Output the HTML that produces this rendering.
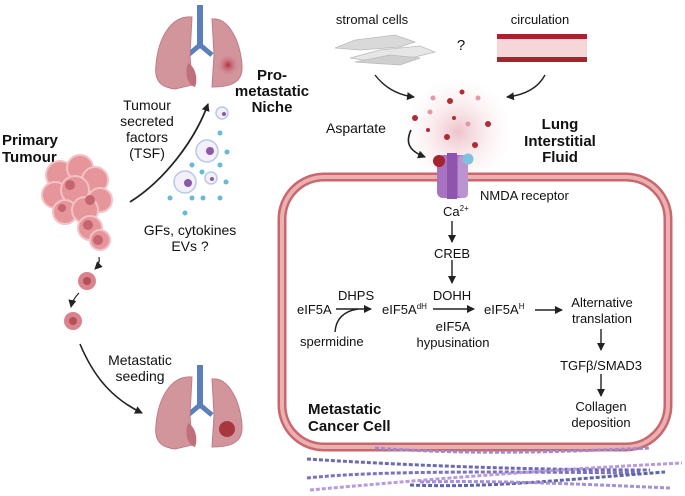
<!DOCTYPE html>
<html><head><meta charset="utf-8"><style>
html,body{margin:0;padding:0;background:#fff;}
svg{display:block;font-family:"Liberation Sans",sans-serif;}
</style></head><body>
<svg width="685" height="496" viewBox="0 0 685 496" xmlns="http://www.w3.org/2000/svg">
<defs>
<marker id="ah" markerWidth="10" markerHeight="10" refX="7" refY="5" orient="auto" markerUnits="userSpaceOnUse"><path d="M0,1 L8,5 L0,9 Z" fill="#222"/></marker>
<radialGradient id="glow" cx="50%" cy="50%" r="50%"><stop offset="0" stop-color="#e8a9b3" stop-opacity="0.7"/><stop offset="1" stop-color="#fbe8ec" stop-opacity="0"/></radialGradient>
<radialGradient id="spot" cx="50%" cy="50%" r="50%"><stop offset="0" stop-color="#b3303c"/><stop offset="1" stop-color="#d48a96" stop-opacity="0"/></radialGradient>
<g id="lung">
<rect x="-3" y="-40" width="6" height="42" fill="#5b7fb8"/>
<path d="M0,0 L-12,10 M0,0 L12,10" stroke="#5b7fb8" stroke-width="5"/>
<path d="M-8,-28 C-30,-30 -42,-5 -44,20 C-46,35 -40,42 -25,44 L-8,40 L-10,10 Z" fill="#d3959c" stroke="#c07d86" stroke-width="1"/>
<path d="M-12,18 C-4,22 -2,35 -5,42 C-12,40 -16,30 -12,18Z" fill="#c06f7d"/>
<path d="M12,-26 C28,-28 40,-5 42,20 C43,35 35,42 12,42 L14,10 Z" fill="#d3959c" stroke="#c07d86" stroke-width="1"/>
</g>
</defs>

<!-- top lung -->
<g transform="translate(200,45)">
<use href="#lung"/>
<circle cx="28" cy="20" r="11" fill="url(#spot)"/>
</g>
<!-- bottom lung -->
<g transform="translate(200,405)">
<use href="#lung"/>
<circle cx="27" cy="24" r="8" fill="#a8363f"/>
</g>

<!-- primary tumour -->
<text x="2" y="145" font-size="15" font-weight="bold" fill="#111">Primary</text>
<text x="2" y="162" font-size="15" font-weight="bold" fill="#111">Tumour</text>
<g fill="#e6959a" stroke="#f2c2c5" stroke-width="2">
<circle cx="60" cy="175" r="14"/><circle cx="80" cy="168" r="13"/><circle cx="95" cy="180" r="13"/>
<circle cx="55" cy="195" r="13"/><circle cx="75" cy="190" r="14"/><circle cx="100" cy="200" r="12"/>
<circle cx="65" cy="212" r="12"/><circle cx="85" cy="210" r="13"/><circle cx="90" cy="228" r="12"/>
<circle cx="100" cy="240" r="10"/>
</g>
<g fill="#c56570"><circle cx="70" cy="185" r="5"/><circle cx="90" cy="200" r="5"/><circle cx="88" cy="225" r="5"/><circle cx="98" cy="240" r="5"/><circle cx="62" cy="208" r="4"/></g>
<circle cx="87" cy="281" r="9" fill="#d9848c"/><circle cx="87" cy="281" r="4" fill="#b3505b"/>
<circle cx="73" cy="321" r="9" fill="#d9848c"/><circle cx="73" cy="321" r="4" fill="#b3505b"/>
<path d="M99,257 C100,262 98,266 95,269" fill="none" stroke="#222" stroke-width="1.2" marker-end="url(#ah)"/>
<path d="M79,293 C75,297 72,302 71,307" fill="none" stroke="#222" stroke-width="1.2" marker-end="url(#ah)"/>

<!-- TSF arrow -->
<path d="M130,202 C165,180 195,140 208,104" fill="none" stroke="#222" stroke-width="1.8" marker-end="url(#ah)"/>
<g font-size="14" fill="#111" text-anchor="middle">
<text x="147" y="110">Tumour</text><text x="147" y="126">secreted</text><text x="147" y="142">factors</text><text x="147" y="158">(TSF)</text>
<text x="190" y="235">GFs, cytokines</text><text x="190" y="251">EVs ?</text>
<text x="140" y="365">Metastatic</text><text x="140" y="381">seeding</text>
</g>
<text x="272" y="80" font-size="15" font-weight="bold" text-anchor="middle" fill="#111">Pro-</text>
<text x="272" y="96" font-size="15" font-weight="bold" text-anchor="middle" fill="#111">metastatic</text>
<text x="272" y="112" font-size="15" font-weight="bold" text-anchor="middle" fill="#111">Niche</text>
<!-- EVs -->
<g fill="#f4effa" stroke="#b8c9e6" stroke-width="1.5">
<circle cx="222" cy="113" r="6"/><circle cx="207" cy="151" r="11"/><circle cx="211" cy="178" r="6"/><circle cx="185" cy="182" r="11"/>
</g>
<g fill="#8a5aa8"><circle cx="224" cy="114" r="2"/><circle cx="210" cy="151" r="4"/><circle cx="212" cy="179" r="2"/><circle cx="188" cy="183" r="4"/></g>
<g fill="#62bcd8">
<circle cx="220" cy="133" r="2.5"/><circle cx="227" cy="152" r="2.5"/><circle cx="192" cy="165" r="2.5"/><circle cx="220" cy="165" r="2.5"/>
<circle cx="202" cy="172" r="2.5"/><circle cx="226" cy="182" r="2.5"/><circle cx="170" cy="198" r="2.5"/><circle cx="192" cy="198" r="2.5"/>
<circle cx="203" cy="198" r="2.5"/><circle cx="220" cy="198" r="2.5"/><circle cx="185" cy="213" r="2.5"/>
</g>
<path d="M80,344 C95,380 115,400 142,413" fill="none" stroke="#222" stroke-width="1.6" marker-end="url(#ah)"/>

<!-- top right -->
<text x="372" y="24" font-size="13" text-anchor="middle" fill="#111">stromal cells</text>
<text x="540" y="24" font-size="13" text-anchor="middle" fill="#111">circulation</text>
<text x="461" y="50" font-size="15" text-anchor="middle" fill="#111">?</text>
<g fill="#d9d9d9" stroke="#bbb" stroke-width="0.8">
<path d="M335,48 L355,40 L395,35 L415,42 L400,47 L360,50 Z"/>
<path d="M350,58 L380,50 L420,46 L435,52 L415,57 L375,62 Z" fill="#e6e6e6"/>
<path d="M355,62 L390,55 L420,58 L400,65 Z" fill="#cfcfcf"/>
</g>
<rect x="497" y="37" width="90" height="22" fill="#f6d6d6"/>
<rect x="497" y="34" width="90" height="5" fill="#a8232e"/>
<rect x="497" y="57" width="90" height="5" fill="#a8232e"/>
<path d="M375,75 C385,88 398,95 414,97" fill="none" stroke="#222" stroke-width="1.4" marker-end="url(#ah)"/>
<path d="M545,75 C538,88 525,95 507,97" fill="none" stroke="#222" stroke-width="1.4" marker-end="url(#ah)"/>
<circle cx="458" cy="132" r="55" fill="url(#glow)"/>
<g fill="#b12a36">
<circle cx="450" cy="101" r="3"/><circle cx="462" cy="92" r="2.5"/><circle cx="415" cy="118" r="3"/><circle cx="488" cy="124" r="3"/><circle cx="447" cy="137" r="3"/><circle cx="475" cy="145" r="3"/><circle cx="454" cy="118" r="2"/><circle cx="428" cy="130" r="2"/>
</g>
<g fill="#e19aa3"><circle cx="433" cy="98" r="2.5"/><circle cx="478" cy="98" r="2.5"/><circle cx="430" cy="112" r="2.5"/><circle cx="468" cy="124" r="2.5"/></g>
<text x="326" y="133" font-size="14" fill="#111">Aspartate</text>
<path d="M411,130 C404,145 412,152 425,157" fill="none" stroke="#222" stroke-width="1.6" marker-end="url(#ah)"/>
<g font-size="15" font-weight="bold" text-anchor="middle" fill="#111">
<text x="560" y="129">Lung</text><text x="560" y="146">Interstitial</text><text x="560" y="162">Fluid</text>
</g>

<!-- cell -->
<rect x="282" y="177" width="386" height="270" rx="42" fill="none" stroke="#c9676c" stroke-width="9"/>
<rect x="282" y="177" width="386" height="270" rx="42" fill="none" stroke="#eab0b2" stroke-width="4"/>
<!-- receptor -->
<rect x="437" y="155" width="31" height="43" rx="6" fill="#a773c0"/>
<rect x="447" y="153" width="10" height="46" fill="#8f55ae"/>
<rect x="458" y="155" width="10" height="43" rx="4" fill="#bb93d0"/>
<circle cx="439" cy="161" r="6" fill="#a5232d"/>
<circle cx="468" cy="159" r="5.5" fill="#7cc4de"/>
<g font-size="13" fill="#111">
<text x="480" y="200">NMDA receptor</text>
<text x="443" y="216">Ca<tspan font-size="8" dy="-5">2+</tspan></text>
<text x="452" y="258" text-anchor="middle">CREB</text>
<text x="297" y="314">eIF5A</text>
<text x="338" y="300">DHPS</text>
<text x="300" y="346">spermidine</text>
<text x="382" y="314">eIF5A<tspan font-size="8" dy="-5">dH</tspan></text>
<text x="452" y="300" text-anchor="middle">DOHH</text>
<text x="453" y="331" text-anchor="middle">eIF5A</text>
<text x="453" y="347" text-anchor="middle">hypusination</text>
<text x="484" y="314">eIF5A<tspan font-size="8" dy="-5">H</tspan></text>
<text x="602" y="307" text-anchor="middle">Alternative</text>
<text x="602" y="323" text-anchor="middle">translation</text>
<text x="601" y="370" text-anchor="middle">TGFβ/SMAD3</text>
<text x="601" y="411" text-anchor="middle">Collagen</text>
<text x="601" y="427" text-anchor="middle">deposition</text>
</g>
<g font-size="15" font-weight="bold" fill="#111"><text x="308" y="414">Metastatic</text><text x="308" y="431">Cancer Cell</text></g>
<g stroke="#222" stroke-width="1.4" fill="none" marker-end="url(#ah)">
<line x1="452" y1="221" x2="452" y2="242"/>
<line x1="452" y1="260" x2="452" y2="283"/>
<line x1="336" y1="309" x2="371" y2="309"/>
<line x1="433" y1="309" x2="474" y2="309"/>
<line x1="535" y1="310" x2="562" y2="310"/>
<line x1="601" y1="329" x2="601" y2="350"/>
<line x1="601" y1="374" x2="601" y2="396"/>
</g>
<path d="M335,332 C336,318 345,311 358,309" fill="none" stroke="#222" stroke-width="1.4"/>
<!-- collagen -->
<g fill="none" stroke-width="3" stroke-dasharray="4 2">
<path d="M307,459 C400,465 520,470 650,470" stroke="#6d6ab0"/>
<path d="M375,448 C470,455 560,452 650,448" stroke="#9d8ad0"/>
<path d="M307,478 C380,470 520,472 640,473" stroke="#7a73bb"/>
<path d="M310,490 C420,480 540,470 682,463" stroke="#b79ae0"/>
<path d="M410,485 C490,488 560,480 665,472" stroke="#5f63a8"/>
<path d="M420,482 C500,480 600,485 670,488" stroke="#a58fd6"/>
</g>
</svg>
</body></html>
